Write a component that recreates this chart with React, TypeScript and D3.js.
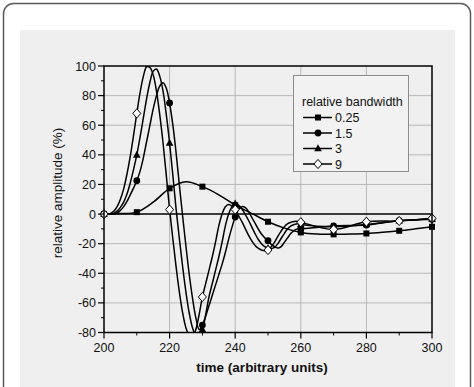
import React from 'react';
import * as d3 from 'd3';

// time samples for the three wide-band series (dense around the pulse)
const tDense = [
  200, 201, 202, 203, 204, 205, 206, 207, 208, 209,
  210, 211, 212, 213, 214, 215, 216, 217, 218, 219,
  220, 221, 222, 223, 224, 225, 226, 227, 228, 229,
  230, 231, 232, 233, 234, 235, 236, 237, 238, 239,
  240, 241, 242, 243, 244, 245, 246, 247, 248, 249,
  250, 251, 252, 253, 254, 255, 256, 257, 258, 259,
  260, 270, 280, 290, 300,
];

const bw9 = [
  0, 0, 0.5, 2, 5, 10, 17, 27, 39, 53,
  68, 82, 93, 99.5, 99, 94, 83, 67, 48, 26,
  3, -17, -36, -53, -67, -77, -82, -83, -78, -68,
  -56, -47, -38, -29, -19, -8, 0, 5, 6.5, 5.5,
  3, -1, -5, -9.5, -14, -18, -21, -23, -24.3, -24.8,
  -24.3, -22, -19, -15, -11.5, -8.5, -6.5, -5.5, -5, -5,
  -5.5, -10.4, -5.2, -4.7, -2.9,
];

const bw3 = [
  0, 0, 0, 0.5, 2, 4.5, 8, 13.5, 21, 30,
  40, 52, 65, 78, 89, 96.5, 98, 93, 83, 67,
  48, 26, 3, -17, -36, -53, -67, -77, -82, -83,
  -78, -68, -56, -47, -38, -29, -19, -8, 0, 5,
  7, 6, 3.5, 0, -4, -8.5, -13, -17, -20, -22,
  -23, -23.3, -22.5, -20, -16.5, -13, -10, -8, -7, -6.5,
  -7, -8.5, -7, -4.5, -3.5,
];

const bw15 = [
  0, 0, 0, 0.2, 0.8, 2.5, 5, 8.5, 13, 17.5,
  22.5, 29, 38, 49, 60, 71, 80, 86.5, 88.7, 85,
  75, 60, 41, 19, -2, -22, -41, -57, -70, -78,
  -75, -69, -62, -55, -48, -41, -34, -26, -17, -9,
  -2, 3, 5, 4.5, 2, -2, -6, -10, -13.5, -16,
  -18, -20.5, -22, -23, -22, -19, -16, -13, -11, -10,
  -10, -8, -7.4, -4.5, -3.5,
];

// narrow-band series sampled every 5 units
const tSparse = [200, 205, 210, 215, 220, 225, 230, 235, 240, 245, 250, 255, 260, 265, 270, 275, 280, 285, 290, 295, 300];
const bw025 = [0, 0.3, 1.3, 8, 17.4, 21.8, 18.5, 13, 6, 0.5, -5.2, -9.5, -12.4, -13.5, -13.7, -13.5, -13.1, -12.3, -11.3, -10, -8.6];

const seriesLabels = ['0.25', '1.5', '3', '9'];
const legendTitle = 'relative bandwidth';
const xTicks = [200, 220, 240, 260, 280, 300];
const xMinor = [210, 230, 250, 270, 290];
const yTicks = [-80, -60, -40, -20, 0, 20, 40, 60, 80, 100];
const yMinor = [-70, -50, -30, -10, 10, 30, 50, 70, 90];
const xTitle = 'time (arbitrary units)';
const yTitle = 'relative amplitude (%)';

const FONT = 'Arial, "Liberation Sans", Helvetica, sans-serif';

type Shape = 'square' | 'circle' | 'triangle' | 'diamond';

function Marker({ cx, cy, shape }: { cx: number; cy: number; shape: Shape }) {
  if (shape === 'square') return <rect x={cx - 3} y={cy - 3} width={6} height={6} fill="#000" />;
  if (shape === 'circle') return <circle cx={cx} cy={cy} r={3.4} fill="#000" />;
  if (shape === 'triangle')
    return <path d={`M${cx},${cy - 4.2}L${cx + 3.8},${cy + 2.8}L${cx - 3.8},${cy + 2.8}Z`} fill="#000" />;
  return (
    <path
      d={`M${cx},${cy - 4.6}L${cx + 4},${cy}L${cx},${cy + 4.6}L${cx - 4},${cy}Z`}
      fill="#fff"
      stroke="#000"
      strokeWidth={1}
    />
  );
}

export default function App() {
  const W = 474;
  const H = 387;
  const left = 104, right = 432, top = 66, bottom = 332.5;
  const x = d3.scaleLinear().domain([200, 300]).range([left, right]);
  const y = d3.scaleLinear().domain([-80, 100]).range([bottom, top]);

  const line = d3
    .line<[number, number]>()
    .x((d) => x(d[0]))
    .y((d) => y(d[1]))
    .curve(d3.curveCatmullRom.alpha(0.5));

  const series: { pts: [number, number][]; shape: Shape }[] = [
    { pts: tSparse.map((t, i) => [t, bw025[i]] as [number, number]), shape: 'square' },
    { pts: tDense.map((t, i) => [t, bw15[i]] as [number, number]), shape: 'circle' },
    { pts: tDense.map((t, i) => [t, bw3[i]] as [number, number]), shape: 'triangle' },
    { pts: tDense.map((t, i) => [t, bw9[i]] as [number, number]), shape: 'diamond' },
  ];

  const legendX = 293.5, legendY = 75.5, legendW = 115, legendH = 96;
  const entryY = [117.5, 133, 148.5, 164];

  return (
    <svg
      width={W}
      height={H}
      style={{ position: 'absolute', left: 0, top: 0, background: '#fff' }}
      fontFamily={FONT}
    >
      <defs>
        <clipPath id="plotClip">
          <rect x={left} y={top} width={right - left} height={bottom - top} />
        </clipPath>
      </defs>
      <rect x={3.5} y={3.5} width={467} height={420} rx={10} fill="#fff" stroke="#5a5a5a" strokeWidth={1.5} />
      <rect x={20} y={30} width={435} height={370} fill="#efefef" />

      {/* grid */}
      {xTicks.slice(1, -1).map((t) => (
        <line key={'gx' + t} x1={x(t)} x2={x(t)} y1={top} y2={bottom} stroke="#b8b8b8" strokeWidth={1} />
      ))}
      {yTicks.slice(1, -1).filter((v) => v !== 0).map((v) => (
        <line key={'gy' + v} x1={left} x2={right} y1={y(v)} y2={y(v)} stroke="#b8b8b8" strokeWidth={1} />
      ))}
      {/* zero line */}
      <line x1={left} x2={right} y1={y(0)} y2={y(0)} stroke="#000" strokeWidth={1.5} />

      {/* legend box */}
      <rect x={legendX} y={legendY} width={legendW} height={legendH} fill="#f2f2f2" stroke="#8c8c8c" strokeWidth={1} />
      <text x={302} y={106} fontSize={12.5} fill="#111">{legendTitle}</text>
      {seriesLabels.map((lab, i) => (
        <g key={'lg' + lab}>
          <line x1={303} x2={332} y1={entryY[i]} y2={entryY[i]} stroke="#000" strokeWidth={1.5} />
          <Marker cx={318} cy={entryY[i]} shape={series[i].shape} />
          <text x={335} y={entryY[i] + 4.5} fontSize={12.5} fill="#111">{lab}</text>
        </g>
      ))}

      {/* series */}
      <g clipPath="url(#plotClip)">
        {series.map((s, i) => (
          <path key={'s' + i} d={line(s.pts) || ''} fill="none" stroke="#000" strokeWidth={1.5} />
        ))}
      </g>
      {series.map((s, i) => (
        <g key={'m' + i}>
          {s.pts
            .filter((p) => p[0] % 10 === 0 && p[1] >= -80)
            .map((p) => (
              <Marker key={p[0]} cx={x(p[0])} cy={y(p[1])} shape={s.shape} />
            ))}
        </g>
      ))}

      {/* frame */}
      <rect x={left} y={top} width={right - left} height={bottom - top} fill="none" stroke="#000" strokeWidth={1.5} />

      {/* y axis ticks */}
      {yTicks.map((v) => (
        <g key={'yt' + v}>
          <line x1={left - 6} x2={left} y1={y(v)} y2={y(v)} stroke="#000" strokeWidth={1.2} />
          <text x={96} y={y(v) + 4.5} fontSize={12.5} textAnchor="end" fill="#111">{v}</text>
        </g>
      ))}
      {yMinor.map((v) => (
        <line key={'ym' + v} x1={left - 3} x2={left} y1={y(v)} y2={y(v)} stroke="#000" strokeWidth={1} />
      ))}
      {/* x axis ticks */}
      {xTicks.map((t) => (
        <g key={'xt' + t}>
          <line x1={x(t)} x2={x(t)} y1={bottom} y2={bottom + 6} stroke="#000" strokeWidth={1.2} />
          <text x={x(t)} y={351.5} fontSize={12.5} textAnchor="middle" fill="#111">{t}</text>
        </g>
      ))}
      {xMinor.map((t) => (
        <line key={'xm' + t} x1={x(t)} x2={x(t)} y1={bottom} y2={bottom + 3} stroke="#000" strokeWidth={1} />
      ))}

      {/* axis titles */}
      <text x={262} y={371.5} fontSize={13.5} fontWeight="bold" textAnchor="middle" fill="#111">{xTitle}</text>
      <text
        transform={`translate(62,193) rotate(-90)`}
        fontSize={13.5}
        textAnchor="middle"
        fill="#111"
      >
        {yTitle}
      </text>
    </svg>
  );
}
